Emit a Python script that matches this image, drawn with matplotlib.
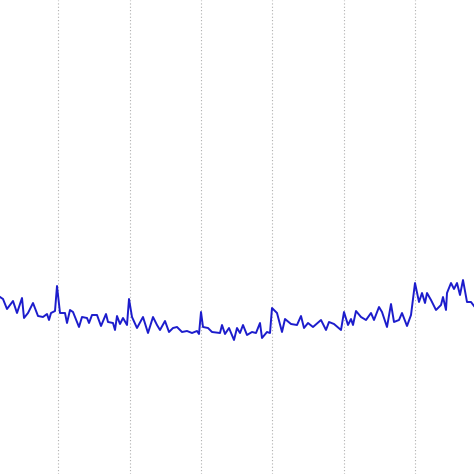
import matplotlib
matplotlib.use("Agg")
import matplotlib.pyplot as plt

# series sampled from the chart (x position, level; larger level = lower on screen)
x = [0, 3, 7, 13, 17, 22, 24, 28, 33, 38, 43, 47, 49, 51, 55, 57, 60, 65, 67, 70,
     73, 79, 82, 87, 89, 92, 97, 101, 106, 108, 113, 115, 117, 120, 123, 127, 129,
     132, 137, 143, 148, 153, 157, 160, 165, 169, 173, 177, 182, 187, 192, 197, 199,
     201, 203, 208, 212, 220, 222, 225, 229, 234, 237, 240, 243, 247, 252, 256, 260,
     262, 267, 270, 272, 277, 282, 285, 291, 297, 301, 304, 308, 313, 321, 326, 329,
     334, 341, 344, 348, 351, 353, 356, 361, 366, 371, 374, 379, 382, 387, 391, 394,
     399, 402, 407, 411, 415, 419, 422, 425, 427, 431, 436, 441, 443, 446, 447, 451,
     454, 457, 460, 463, 467, 471, 474]
y = [297, 299, 309, 301, 313, 298, 318, 313, 303, 316, 317, 314, 320, 313, 311, 286,
     313, 313, 323, 310, 312, 327, 317, 318, 323, 315, 315, 326, 314, 322, 323, 330,
     316, 324, 318, 325, 299, 317, 328, 317, 333, 317, 325, 330, 321, 332, 328, 327,
     332, 331, 333, 331, 334, 312, 327, 328, 332, 333, 325, 334, 328, 340, 328, 333,
     325, 335, 332, 333, 323, 338, 332, 333, 308, 313, 332, 319, 324, 325, 316, 328,
     323, 327, 320, 330, 322, 324, 330, 312, 325, 319, 325, 311, 317, 320, 313, 320,
     307, 312, 327, 304, 322, 320, 313, 326, 315, 283, 302, 293, 303, 293, 300, 310,
     305, 297, 310, 293, 283, 289, 283, 295, 280, 302, 302, 306]
grid_x = [58, 130, 201, 272, 344, 415]

fig = plt.figure(figsize=(4.74, 4.74), dpi=100)
ax = fig.add_axes([0, 0, 1, 1])
for gx in grid_x:
    ax.axvline(gx, color="#b0b0b0", linestyle=(0, (1, 2)), linewidth=0.8)
ax.plot(x, y, color="#1c1ccc", linewidth=1.4)
ax.set_xlim(0, 474)
ax.set_ylim(474, 0)
ax.axis("off")
fig.savefig("out.png", dpi=100)
